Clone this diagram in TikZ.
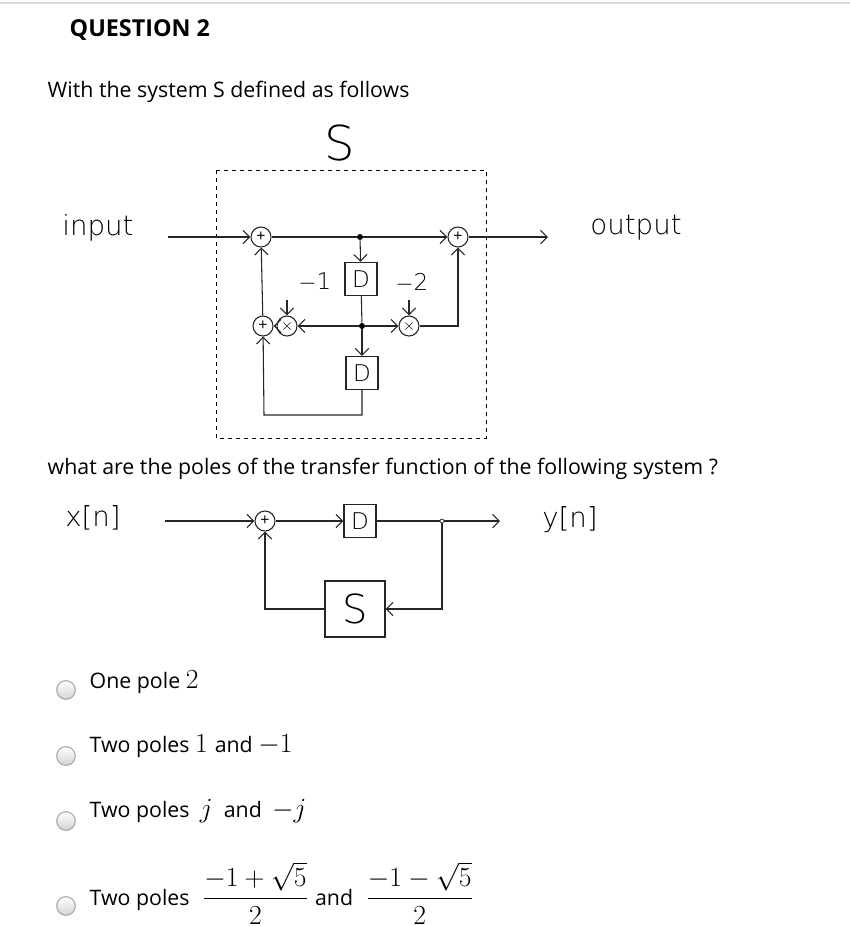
\documentclass[tikz,border=0pt]{standalone}
\usepackage{fontspec}
\setmainfont{Open Sans}
\newfontfamily\hand{DejaVu Sans ExtraLight}
\usetikzlibrary{arrows.meta}
\begin{document}
\begin{tikzpicture}[x=0.75pt,y=-0.75pt,
  sig/.style={draw=black!85,line width=0.8pt},
  arr/.style={sig,-{Straight Barb[length=5pt,width=10pt]}},
  sum/.style={circle,draw=black!85,line width=0.8pt,minimum size=15pt,inner sep=0pt,font=\large},
  blk/.style={draw=black!85,line width=0.8pt,minimum width=24pt,minimum height=25pt,inner sep=0pt,font=\hand\LARGE},
  dot/.style={circle,fill=black,inner sep=0pt,minimum size=4.5pt},
  lbl/.style={font=\hand\huge,anchor=center},
  txt/.style={anchor=west,font=\fontsize{16}{19}\selectfont},
  radio/.style={circle,draw=gray!70,line width=0.8pt,top color=white,bottom color=gray!35,minimum size=14pt,inner sep=0pt}]
\clip (0,0) rectangle (850,926);
\fill[white] (0,0) rectangle (850,926);
\draw[gray!30,line width=2pt] (0,3) -- (850,3);
\node[anchor=west,font=\bfseries\fontsize{17.5}{20}\selectfont] (q) at (65,30) {QUESTION 2};
\node[txt] (t1) at (43,92) {With the system S defined as follows};
\node[font=\hand\fontsize{36}{38}\selectfont] (S) at (340,143) {S};
% system S
\draw[dashed,line width=0.7pt] (216,170) rectangle (486,438);
\node[lbl] (in) at (98,228) {input};
\node[lbl] (out) at (636,228) {output};
\coordinate (inend) at (168,237);
\node[sum] (a1) at (261,237) {+};
\node[sum] (a2) at (458,237) {+};
\node[dot] (tap) at (360,237) {};
\coordinate (oend) at (548,237);
\node[blk] (d1) at (361,279) {D};
\node[blk] (d2) at (362,373) {D};
\node[sum] (a3) at (263,326) {+};
\node[sum,font=\large] (m1) at (287,326) {$\times$};
\node[sum,font=\large] (m2) at (409,326) {$\times$};
\node[dot] (br) at (362,326) {};
\node[font=\hand\LARGE] (c1) at (315,282) {$-$1};
\node[font=\hand\LARGE] (c2) at (412,283) {$-$2};
\coordinate (c1a) at (287,300);
\coordinate (c2a) at (409,300);
\draw[arr] (inend) -- (a1);
\draw[sig] (a1) -- (tap);
\draw[arr] (tap) -- (a2);
\draw[arr] (a2) -- (oend);
\draw[arr] (tap) -- (d1);
\draw[sig] (d1) -- (br);
\draw[arr] (br) -- (m1);
\draw[arr] (br) -- (m2);
\draw[arr] (br) -- (d2);
\draw[arr] (m1) -- (a3);
\draw[arr] (c1a) -- (m1);
\draw[arr] (c2a) -- (m2);
\draw[arr] (m2) -| (a2);
\draw[arr] (a3) -- (a1);
\draw[arr] (d2.south) |- (264,415) -- (a3);
% second diagram
\node[txt] (t2) at (43,469) {what are the poles of the transfer function of the following system ?};
\node[lbl] (x) at (93,518) {x[n]};
\node[lbl] (y) at (570,520) {y[n]};
\coordinate (xend) at (165,521);
\node[sum] (b1) at (265,521) {+};
\node[blk] (bd) at (360,521) {D};
\node[circle,draw,fill=white,inner sep=0pt,minimum size=3pt] (bo) at (442,521) {};
\coordinate (yend) at (500,521);
\node[blk,minimum width=45pt,minimum height=42pt,font=\hand\fontsize{30}{32}\selectfont] (bs) at (355,609) {S};
\draw[arr] (xend) -- (b1);
\draw[arr] (b1) -- (bd);
\draw[sig] (bd) -- (bo);
\draw[arr] (bo) -- (yend);
\draw[arr] (bo) |- (bs);
\draw[arr] (bs) -| (b1);
% options
\node[radio] (r1) at (66,690) {};
\node[radio] (r2) at (66,756) {};
\node[radio] (r3) at (66,821) {};
\node[radio] (r4) at (66,906) {};
\node[txt] (o1) at (85,682) {One pole \fontsize{20}{22}\selectfont$2$};
\node[txt] (o2) at (85,746) {Two poles \fontsize{20}{22}\selectfont$1$ \fontsize{16}{19}\selectfont and \fontsize{20}{22}\selectfont$-1$};
\node[txt] (o3) at (85,811) {Two poles \fontsize{20}{22}\selectfont$\,j$\, \fontsize{16}{19}\selectfont and \fontsize{20}{22}\selectfont$\,-j$};
\node[txt] (o4) at (85,893) {Two poles \fontsize{20}{22}\selectfont$\;\displaystyle\frac{-1+\sqrt{5}}{2}$ \fontsize{16}{19}\selectfont and \fontsize{20}{22}\selectfont$\;\displaystyle\frac{-1-\sqrt{5}}{2}$};
\end{tikzpicture}
\end{document}
